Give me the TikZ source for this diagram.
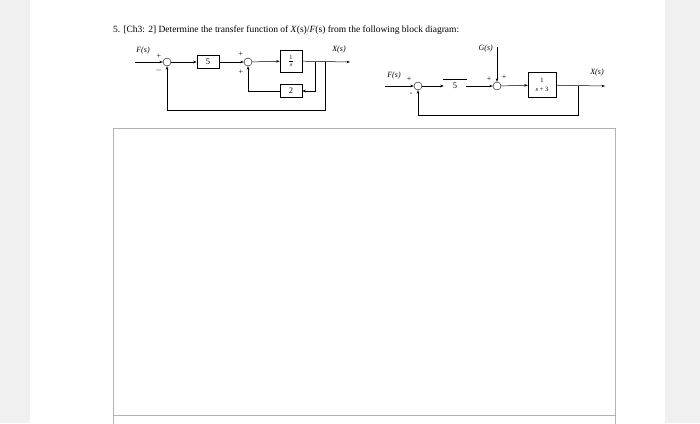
\documentclass[tikz,border=0pt]{standalone}
\usepackage{fontspec}
\setmainfont{Liberation Serif}
\usetikzlibrary{arrows.meta}
\begin{document}
\begin{tikzpicture}[x=1pt,y=-1pt,
  blk/.style={draw,line width=0.5pt,inner sep=0pt,minimum width=22pt,minimum height=13pt,font=\fontsize{8.5}{9}\selectfont},
  sumj/.style={draw,circle,minimum size=8pt,inner sep=0pt},
  sig/.style={-{Stealth[length=3.5pt,width=2.5pt]},line width=0.5pt},
  ln/.style={line width=0.5pt},
  sgn/.style={font=\fontsize{8}{8}\selectfont,inner sep=0},
  lbl/.style={font=\fontsize{8}{8}\selectfont\itshape,inner sep=1pt}]
\useasboundingbox (0,0) rectangle (700,423);
\fill[gray!12] (0,0) rectangle (30,423);
\fill[gray!12] (665,0) rectangle (700,423);
\draw[gray!60,line width=0.6pt] (113,128) rectangle (615,430);
\draw[gray!60,line width=0.6pt] (113,415) -- (615,415);
\node[anchor=west,font=\fontsize{9.5}{11}\selectfont,inner sep=0] (title) at (113,30) {5. [Ch3: 2] Determine the transfer function of \textit{X}(s)/\textit{F}(s) from the following block diagram:};
% diagram 1
\coordinate (in1) at (135,62);
\node[lbl] (F1) at (143,51) {F(s)};
\node[sumj] (s1) at (167,62) {};
\node[blk] (b5) at (208,62) {5};
\node[sumj] (s2) at (248,62) {};
\node[blk,minimum height=22pt] (bi) at (291,61) {$\frac{1}{s}$};
\node[blk] (b2) at (291,91) {2};
\coordinate (o1) at (350,62);
\coordinate (t1) at (315,62);
\coordinate (t2) at (325,62);
\node[lbl] (X1) at (339,50) {X(s)};
\draw[sig] (in1) -- (s1);
\draw[sig] (s1) -- (b5);
\draw[sig] (b5) -- (s2);
\draw[sig] (s2) -- (bi);
\draw[sig] (bi) -- (o1);
\draw[sig] (t1) |- (b2);
\draw[sig] (b2) -| (s2);
\draw[sig] (t2) -- (325,110) -| (s1);
\node[sgn] at (159,56) {+};
\node[sgn] at (159,70) {$-$};
\node[sgn] at (241,54) {+};
\node[sgn] at (241,72) {+};
% diagram 2
\coordinate (in2) at (385,86);
\node[lbl] (F2) at (394,76) {F(s)};
\node[sumj] (u1) at (418,86) {};
\node[blk,draw=none] (c5) at (455,86) {5};
\draw[ln] (443,79) -- (467,79);
\node[sumj] (u2) at (497,86) {};
\node[blk,minimum width=28pt,minimum height=25pt] (c3) at (542,85) {\shortstack{\fontsize{6.5}{7}\selectfont 1\\[1pt]\fontsize{6.5}{7}\selectfont\textit{s} + 3}};
\coordinate (o2) at (605,86);
\coordinate (g) at (497,47);
\node[lbl,anchor=east] (G) at (494,49) {G(s)};
\node[lbl] (X2) at (597,73) {X(s)};
\draw[sig] (in2) -- (u1);
\draw[sig] (u1) -- (c5);
\draw[sig] (c5) -- (u2);
\draw[sig] (g) -- (u2);
\draw[sig] (u2) -- (c3);
\draw[sig] (c3) -- (o2);
\draw[sig] (578,86) -- (578,115) -| (u1);
\node[sgn] at (409,79) {+};
\node[sgn] at (411,94) {-};
\node[sgn] at (489,79) {+};
\node[sgn] at (504,77) {+};
\end{tikzpicture}
\end{document}
